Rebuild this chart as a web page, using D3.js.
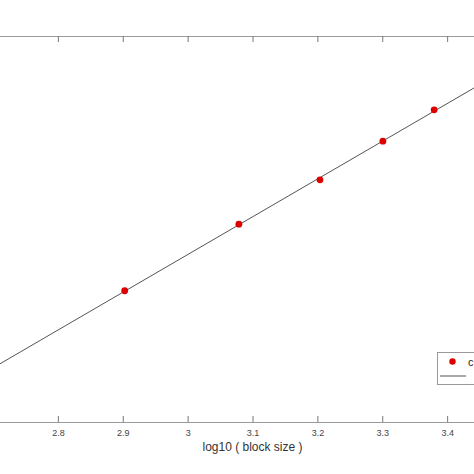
<!DOCTYPE html>
<html>
<head>
<meta charset="utf-8">
<script src="https://cdn.jsdelivr.net/npm/d3@7"></script>
<style>
  html, body { margin: 0; padding: 0; background: #fff; }
  svg { display: block; }
</style>
</head>
<body>
<svg id="chart" width="474" height="474"></svg>
<script>
// ---- data ----
const blockSizes = [800, 1200, 1600, 2000, 2400];
const logBlockSize = [2.903, 3.079, 3.204, 3.301, 3.380];
const logValues = [2.472, 2.610, 2.702, 2.782, 2.847];
const xTickValues = [2.8, 2.9, 3.0, 3.1, 3.2, 3.3, 3.4];
const xTickLabels = ["2.8", "2.9", "3", "3.1", "3.2", "3.3", "3.4"];
const xDomain = [2.7, 3.5];
const yDomain = [2.2, 3.0];
const legendLabels = ["c"];

// ---- layout ----
const svg = d3.select("#chart");
const mLeft = -7, mRight = 512, mTop = 36, mBottom = 422;

const x = d3.scaleLinear().domain(xDomain).range([mLeft, mRight]);
const y = d3.scaleLinear().domain(yDomain).range([mBottom, mTop]);

// least squares fit of the data
const mx = d3.mean(logBlockSize), my = d3.mean(logValues);
let sxy = 0, sxx = 0;
logBlockSize.forEach((v, i) => { sxy += (v - mx) * (logValues[i] - my); sxx += (v - mx) * (v - mx); });
const slope = sxy / sxx, icpt = my - slope * mx;
const fitPts = xDomain.map(v => [v, icpt + slope * v]);

const axisColor = "#9a9a9a";
const font = "'Liberation Sans', Arial, Helvetica, sans-serif";

svg.append("clipPath").attr("id", "plotclip")
  .append("rect").attr("x", mLeft).attr("y", mTop).attr("width", mRight - mLeft).attr("height", mBottom - mTop);

// fit line
svg.append("path")
  .attr("clip-path", "url(#plotclip)")
  .attr("d", d3.line().x(d => x(d[0])).y(d => y(d[1]))(fitPts))
  .attr("fill", "none").attr("stroke", "#555").attr("stroke-width", 1);

// points
svg.append("g").selectAll("circle").data(logBlockSize).join("circle")
  .attr("cx", d => x(d)).attr("cy", (d, i) => y(logValues[i]))
  .attr("r", 3.4).attr("fill", "#dd0000");

// bottom axis
const xb = svg.append("g").attr("transform", `translate(0,${mBottom})`)
  .call(d3.axisBottom(x).tickValues(xTickValues)
    .tickFormat((d, i) => xTickLabels[i]).tickSizeInner(-6).tickSizeOuter(0).tickPadding(6));
xb.select(".domain").attr("stroke", axisColor);
xb.selectAll(".tick line").attr("stroke", "#777");
xb.selectAll(".tick text").attr("fill", "#444").attr("font-size", 9).attr("font-family", font).attr("dy", "0.9em");

// top axis (box)
const xt = svg.append("g").attr("transform", `translate(0,${mTop})`)
  .call(d3.axisTop(x).tickValues(xTickValues).tickFormat("").tickSizeInner(-6).tickSizeOuter(0));
xt.select(".domain").attr("stroke", axisColor);
xt.selectAll(".tick line").attr("stroke", "#777");

// x label
svg.append("text").attr("x", (mLeft + mRight) / 2).attr("y", 451)
  .attr("text-anchor", "middle").attr("font-family", font).attr("font-size", 12).attr("fill", "#333")
  .text("log10 ( block size )");

// legend
const lg = svg.append("g");
lg.append("rect").attr("x", 437.5).attr("y", 352.5).attr("width", 120).attr("height", 32)
  .attr("fill", "#fff").attr("stroke", "#999");
lg.append("circle").attr("cx", 452.5).attr("cy", 361.5).attr("r", 3.2).attr("fill", "#dd0000");
lg.append("line").attr("x1", 440).attr("x2", 466).attr("y1", 376).attr("y2", 376).attr("stroke", "#555");
lg.append("text").attr("x", 468).attr("y", 365.5).attr("font-family", font).attr("font-size", 11).attr("fill", "#222").text(legendLabels[0]);
</script>
</body>
</html>
